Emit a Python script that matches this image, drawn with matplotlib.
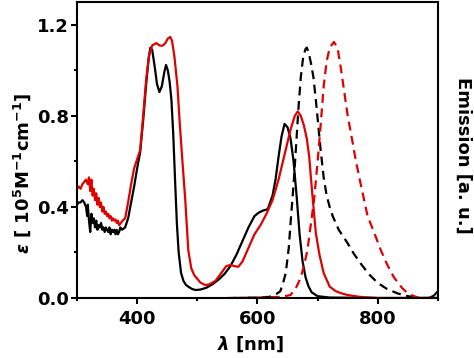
import matplotlib
matplotlib.use('Agg')
import matplotlib.pyplot as plt
import numpy as np

# absorption, black sample
wl_abs_k = [300, 303, 306, 309, 312, 315, 317, 318, 320, 322, 324, 326, 328, 330, 332, 334, 336, 338,
            340, 342, 344, 346, 348, 350, 352, 354, 356, 358, 360, 362, 364, 366, 368, 370, 372, 375,
            380, 385, 390, 395, 400, 405, 410, 415, 419, 422, 425, 429, 433, 437, 441, 445, 448, 451,
            454, 457, 460, 463, 466, 469, 473, 477, 481, 485, 491, 497, 505, 515, 525, 535, 545, 555,
            565, 575, 585, 595, 602, 610, 617, 625, 630, 635, 640, 645, 650, 655, 660, 665, 670, 675,
            680, 685, 690, 700, 720, 800, 885, 893, 900]
abs_k = [0.41, 0.42, 0.42, 0.43, 0.42, 0.40, 0.36, 0.41, 0.34, 0.29, 0.37, 0.33, 0.35, 0.31, 0.34, 0.30,
         0.32, 0.31, 0.33, 0.30, 0.31, 0.29, 0.31, 0.30, 0.29, 0.31, 0.28, 0.30, 0.29, 0.30, 0.28, 0.30,
         0.28, 0.29, 0.31, 0.30, 0.31, 0.35, 0.42, 0.49, 0.57, 0.64, 0.78, 0.94, 1.05, 1.10, 1.09, 1.02,
         0.94, 0.905, 0.93, 0.99, 1.024, 1.00, 0.95, 0.87, 0.72, 0.52, 0.33, 0.20, 0.11, 0.075, 0.058,
         0.05, 0.04, 0.035, 0.037, 0.045, 0.06, 0.08, 0.105, 0.14, 0.19, 0.25, 0.31, 0.36, 0.375, 0.385,
         0.39, 0.45, 0.52, 0.62, 0.71, 0.765, 0.75, 0.70, 0.60, 0.45, 0.28, 0.16, 0.09, 0.05, 0.025,
         0.008, 0.002, 0.0, 0.0, 0.01, 0.03]

# absorption, red sample
wl_abs_r = [300, 303, 306, 309, 312, 315, 318, 320, 322, 324, 326, 328, 330, 332, 334, 336, 338, 340,
            342, 344, 346, 348, 350, 352, 354, 356, 358, 360, 362, 364, 366, 368, 370, 373, 376, 380,
            385, 390, 395, 400, 405, 410, 415, 420, 425, 432, 437, 442, 447, 451, 455, 458, 462, 467,
            471, 475, 480, 485, 490, 495, 505, 513, 520, 530, 540, 548, 555, 562, 568, 575, 585, 595,
            605, 615, 625, 635, 645, 655, 662, 667, 672, 677, 682, 686, 691, 697, 703, 710, 720, 730,
            740, 750, 770, 800, 900]
abs_r = [0.48, 0.49, 0.48, 0.50, 0.51, 0.52, 0.50, 0.53, 0.47, 0.52, 0.45, 0.48, 0.43, 0.46, 0.41, 0.44,
         0.40, 0.42, 0.38, 0.40, 0.37, 0.38, 0.36, 0.37, 0.35, 0.36, 0.34, 0.35, 0.34, 0.345, 0.33, 0.34,
         0.32, 0.33, 0.34, 0.35, 0.42, 0.50, 0.57, 0.61, 0.65, 0.80, 0.96, 1.07, 1.11, 1.12, 1.11, 1.108,
         1.12, 1.14, 1.147, 1.13, 1.06, 0.93, 0.76, 0.61, 0.43, 0.21, 0.13, 0.10, 0.068, 0.057, 0.06,
         0.075, 0.11, 0.14, 0.145, 0.14, 0.137, 0.16, 0.22, 0.28, 0.32, 0.37, 0.43, 0.52, 0.63, 0.74,
         0.80, 0.82, 0.80, 0.76, 0.70, 0.62, 0.46, 0.285, 0.19, 0.11, 0.05, 0.03, 0.02, 0.013, 0.005,
         0.0, 0.0]

# emission, black sample
wl_em_k = [560, 600, 620, 630, 638, 643, 647, 652, 655, 660, 663, 668, 672, 676, 680, 682, 685, 689,
           693, 697, 701, 705, 710, 715, 720, 725, 735, 745, 750, 760, 772, 785, 800, 815, 833, 850,
           872, 900]
em_k = [0.0, 0.002, 0.005, 0.015, 0.03, 0.07, 0.11, 0.22, 0.33, 0.50, 0.62, 0.83, 0.97, 1.06, 1.095,
        1.10, 1.08, 1.03, 0.97, 0.87, 0.76, 0.65, 0.53, 0.45, 0.40, 0.36, 0.30, 0.26, 0.24, 0.195, 0.15,
        0.105, 0.066, 0.04, 0.02, 0.008, 0.0, 0.0]

# emission, red sample
wl_em_r = [550, 600, 640, 655, 665, 672, 678, 683, 688, 694, 700, 705, 710, 715, 720, 727, 733, 738,
           744, 750, 757, 763, 770, 783, 795, 805, 815, 827, 840, 850, 858, 870, 900]
em_r = [0.0, 0.002, 0.005, 0.013, 0.05, 0.09, 0.15, 0.21, 0.31, 0.43, 0.60, 0.76, 0.93, 1.04, 1.10,
        1.125, 1.10, 1.02, 0.91, 0.80, 0.70, 0.61, 0.52, 0.36, 0.28, 0.21, 0.15, 0.09, 0.045, 0.02,
        0.01, 0.0, 0.0]

RED = '#e00000'

plt.rcParams['font.family'] = 'DejaVu Sans'
plt.rcParams['font.weight'] = 'bold'
plt.rcParams['mathtext.fontset'] = 'custom'
plt.rcParams['mathtext.rm'] = 'DejaVu Sans:bold'
plt.rcParams['mathtext.it'] = 'DejaVu Sans:italic:bold'
plt.rcParams['mathtext.bf'] = 'DejaVu Sans:bold'

fig = plt.figure(figsize=(4.74, 3.58), dpi=100)
ax = fig.add_axes([0.1624, 0.1676, 0.7616, 0.8264])

lw = 1.6
ax.plot(wl_abs_k, abs_k, color='black', lw=lw)
ax.plot(wl_abs_r, abs_r, color=RED, lw=lw)
ax.plot(wl_em_k, em_k, color='black', lw=lw, dashes=(4, 2.5))
ax.plot(wl_em_r, em_r, color=RED, lw=lw, dashes=(4, 2.5))

ax.set_xlim(300, 900)
ax.set_ylim(0, 1.3)
ax.set_xticks([400, 600, 800])
ax.set_xticks([300, 500, 700, 900], minor=True)
ax.set_yticks([0.0, 0.4, 0.8, 1.2])
ax.set_yticks([0.2, 0.6, 1.0], minor=True)
ax.set_yticklabels(['0.0', '0.4', '0.8', '1.2'])

for s in ax.spines.values():
    s.set_linewidth(1.5)
ax.tick_params(which='major', length=4, width=1.5, labelsize=13, direction='out')
ax.tick_params(which='minor', length=2.5, width=1.5, direction='out')
ax.tick_params(axis='y', pad=2)
ax.tick_params(axis='x', pad=5)

ax.set_xlabel(r'$\mathit{\lambda}$ [nm]', fontsize=13, fontweight='bold')
ax.set_ylabel(r'$\mathit{\varepsilon}$ [ 10$^{5}$M$^{-1}$cm$^{-1}$]', fontsize=13, fontweight='bold')
ax.xaxis.set_label_coords(0.48, -0.125)
ax.yaxis.set_label_coords(-0.122, 0.42)
fig.text(463 / 474, 1 - 155 / 358, 'Emission [a. u.]', rotation=-90, ha='center', va='center',
         fontsize=13, fontweight='bold')

fig.savefig('out.png', dpi=100)
